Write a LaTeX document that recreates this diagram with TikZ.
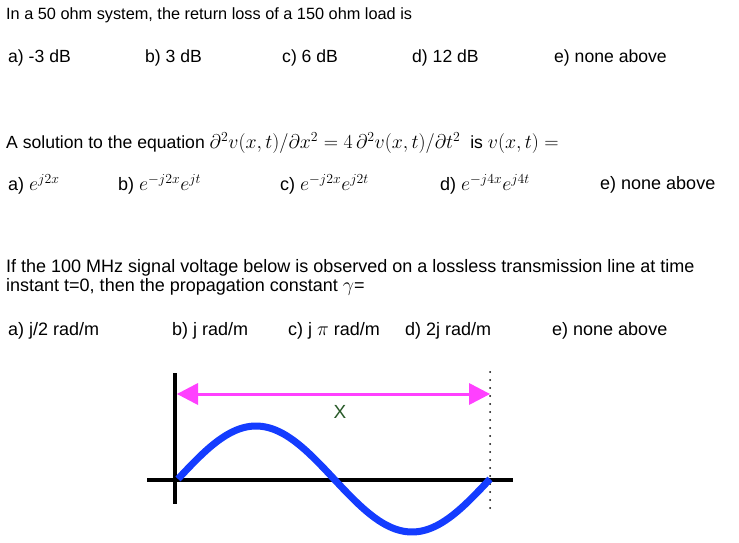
\documentclass[tikz,border=0pt]{standalone}
\usepackage{fontspec}
\setmainfont{Liberation Sans}
\newcommand{\Mth}[1]{\scalebox{1.15}{$#1$}}
\begin{document}
\begin{tikzpicture}[x=1pt,y=-1pt,t/.style={anchor=west,inner sep=0pt,font=\fontsize{16.3}{18}\selectfont},
tb/.style={t,font=\fontsize{17.6}{19}\selectfont},tc/.style={t,font=\fontsize{18}{20}\selectfont}]
\useasboundingbox (0,0) rectangle (739,543);
\node[t] (q1) at (6,15) {In a 50 ohm system, the return loss of a 150 ohm load is};
\node[tb] (a1) at (8,58) {a) -3 dB};
\node[tb] (b1) at (145,58) {b) 3 dB};
\node[tb] (c1) at (282,58) {c) 6 dB};
\node[tb] (d1) at (412,58) {d) 12 dB};
\node[tb] (e1) at (554,58) {e) none above};
\node[tb] (q2) at (6,143) {A solution to the equation \Mth{\partial^2 v(x,t)/\partial x^2 = 4\,\partial^2 v(x,t)/\partial t^2}\ \ is \Mth{v(x,t)=}};
\node[tc] (a2) at (8,184) {a) \Mth{e^{j2x}}};
\node[tc] (b2) at (118,184) {b) \Mth{e^{-j2x}e^{jt}}};
\node[tc] (c2) at (280,184) {c) \Mth{e^{-j2x}e^{j2t}}};
\node[tc] (d2) at (440,184) {d) \Mth{e^{-j4x}e^{j4t}}};
\node[tc] (e2) at (600,185) {e) none above};
\node[tc] (q3) at (6,268) {If the 100 MHz signal voltage below is observed on a lossless transmission line at time};
\node[tc] (q3b) at (6,287) {instant t=0, then the propagation constant \Mth{\gamma}=};
\node[tc] (a3) at (8,331) {a) j/2 rad/m};
\node[tc] (b3) at (172,331) {b) j rad/m};
\node[tc] (c3) at (288,331) {c) j \Mth{\pi} rad/m};
\node[tc] (d3) at (405,331) {d) 2j rad/m};
\node[tc] (e3) at (552,331) {e) none above};
% figure
\draw[line width=3.5pt] (175,373) -- (175,504);
\draw[line width=3.5pt] (147,480) -- (513,480);
\draw[line width=2pt,line cap=round,dash pattern=on 0pt off 8pt] (490,372) -- (490,512);
\draw[line width=3pt,color={rgb,255:red,255;green,64;blue,255}] (197,394) -- (470,394);
\fill[color={rgb,255:red,255;green,64;blue,255}] (177,394) -- (198,383) -- (198,405) -- cycle;
\fill[color={rgb,255:red,255;green,64;blue,255}] (490,394) -- (469,383) -- (469,405) -- cycle;
\node[font=\fontsize{19}{21}\selectfont,text={rgb,255:red,40;green,90;blue,40}] (X) at (340,412) {X};
\draw[line width=7pt,color={rgb,255:red,20;green,60;blue,255},line join=round]
 plot[domain=0:360,samples=60,smooth] ({178+\x/360*312},{479-53*sin(\x)});
\end{tikzpicture}
\end{document}
